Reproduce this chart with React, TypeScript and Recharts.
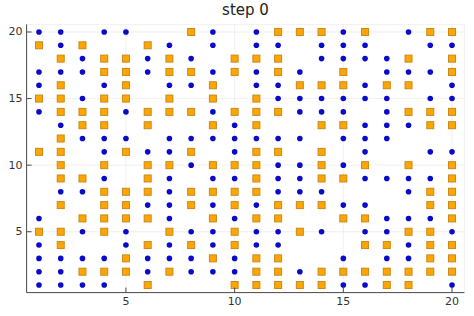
import { ScatterChart, Scatter, XAxis, YAxis, CartesianGrid } from "recharts";

// one string per row, top row (y = 20) first; column i is x = i + 1
// "o" = blue dot, "s" = orange square, "." = empty
const rows: string[] = [
  "oo.oo..so.osssos.oss",
  "sos..so.o.oo.ooo..oo",
  ".sossoso.sss.oooos.s",
  "ooossossososo.s.ooos",
  "os.os.oos.oosssoss.o",
  "ssoss.s.s.soooooo.oo",
  "osssosssosssooo.osss",
  ".oss.s..sos..ssoooss",
  ".sooo.ooooooo.ooo...",
  "ss.osoos.oss.s.o..oo",
  ".s.s.ssosssoosos.s.s",
  ".sso.so.oosoossoooos",
  ".oosssossssooo...oss",
  ".s.ssoosososssoo..ss",
  "o.sssso.soss..ssooos",
  "ssoso.soosooso.oosso",
  "os..osososoo...ssoss",
  "oooosooososs..o.ooss",
  "oosssosooossosssssss",
  "oooo.s...sssssooss.o",
];

const xTicks = [5, 10, 15, 20];
const yTicks = [5, 10, 15, 20];

const dots: { x: number; y: number }[] = [];
const squares: { x: number; y: number }[] = [];
rows.forEach((row, r) => {
  row.split("").forEach((c, i) => {
    const p = { x: i + 1, y: 20 - r };
    if (c === "o") dots.push(p);
    if (c === "s") squares.push(p);
  });
});

const axisColor = "#4a4a4a";
const font = "'DejaVu Sans', sans-serif";

const XTick = (props: any) => {
  const { x, y, payload } = props;
  return (
    <g>
      <line x1={x} x2={x} y1={y - 9} y2={y - 14} stroke={axisColor} />
      <text x={x} y={y} textAnchor="middle" dominantBaseline="central" fontSize={11} fontFamily={font} fill="#333">
        {payload.value}
      </text>
    </g>
  );
};

const YTick = (props: any) => {
  const { x, y, payload } = props;
  return (
    <g>
      <line x1={x + 4} x2={x + 9} y1={y} y2={y} stroke={axisColor} />
      <text x={x} y={y} textAnchor="end" dominantBaseline="central" fontSize={11} fontFamily={font} fill="#333">
        {payload.value}
      </text>
    </g>
  );
};

const Dot = (props: any) => <circle cx={props.cx} cy={props.cy} r={2.8} fill="#0a0acc" />;
const Square = (props: any) => (
  <rect x={props.cx - 3.5} y={props.cy - 3.5} width={7} height={7} fill="#ffa500" stroke="#c88a1e" strokeWidth={1} />
);

export default function App() {
  return (
    <div style={{ position: "absolute", left: 0, top: 0, width: 474, height: 316, background: "#fff" }}>
      <div
        style={{
          position: "absolute",
          left: 0,
          width: 491,
          top: 1,
          textAlign: "center",
          fontFamily: font,
          fontSize: 15,
          color: "#222",
        }}
      >
        step 0
      </div>
      <ScatterChart width={474} height={316} margin={{ top: 24.4, right: 9.6, bottom: 0.4, left: 0.6 }}>
        <CartesianGrid stroke="#ececec" strokeWidth={0.8} />
        <XAxis
          type="number"
          dataKey="x"
          domain={[0.43, 20.57]}
          ticks={xTicks}
          allowDataOverflow
          height={23}
          tickSize={0}
          tickMargin={9}
          axisLine={{ stroke: axisColor }}
          tickLine={false}
          tick={<XTick />}
        />
        <YAxis
          type="number"
          dataKey="y"
          domain={[0.43, 20.57]}
          ticks={yTicks}
          allowDataOverflow
          width={26}
          tickSize={0}
          tickMargin={4}
          axisLine={{ stroke: axisColor }}
          tickLine={false}
          tick={<YTick />}
        />
        <Scatter data={dots} shape={<Dot />} isAnimationActive={false} />
        <Scatter data={squares} shape={<Square />} isAnimationActive={false} />
      </ScatterChart>
    </div>
  );
}
